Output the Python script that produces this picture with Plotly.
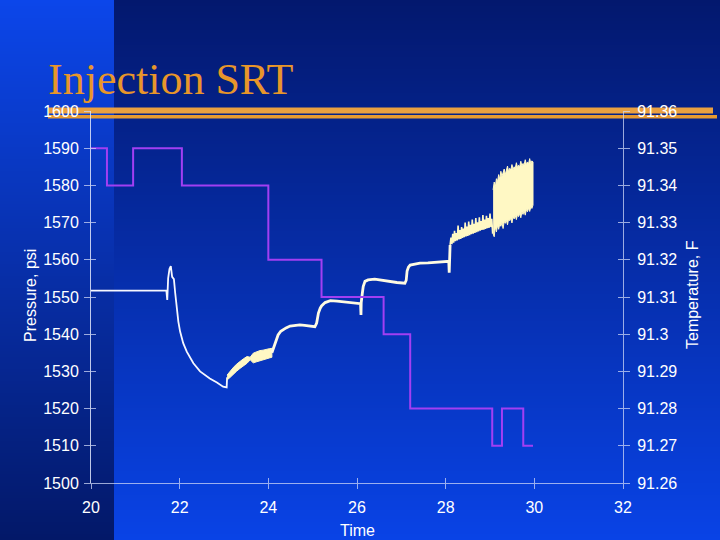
import plotly.graph_objects as go

# ---------------- data ----------------
x_ticks = [20, 22, 24, 26, 28, 30, 32]
p_ticks = [1500, 1510, 1520, 1530, 1540, 1550, 1560, 1570, 1580, 1590, 1600]
t_ticks = [91.26, 91.27, 91.28, 91.29, 91.30, 91.31, 91.32, 91.33, 91.34, 91.35, 91.36]
t_labels = ["91.26", "91.27", "91.28", "91.29", "91.3", "91.31", "91.32", "91.33", "91.34", "91.35", "91.36"]

# temperature (step line, right axis)
temp_time = [20.0, 20.36, 20.95, 22.05, 24.0, 25.2, 26.6, 27.2, 29.05, 29.27, 29.75, 29.97]
temp_val = [91.35, 91.34, 91.35, 91.34, 91.32, 91.31, 91.30, 91.28, 91.27, 91.28, 91.27, 91.27]

# pressure: initial level, spike and decay
decay_time = [20.0, 21.70, 21.72, 21.725, 21.74, 21.77, 21.80, 21.83, 21.87, 21.90, 21.93,
              21.97, 22.01, 22.08, 22.16, 22.31, 22.46, 22.68, 22.84, 22.98, 23.06, 23.07]
decay_p = [1551.7, 1551.7, 1549.2, 1552.5, 1555.0, 1557.5, 1558.3, 1555.4, 1554.8, 1551.0, 1547.4,
           1543.4, 1540.7, 1537.6, 1535.3, 1532.2, 1530.0, 1528.1, 1527.0, 1525.9, 1525.7, 1528.4]

# pressure: first noisy band (envelope)
band1_time = [23.07, 23.13, 23.20, 23.28, 23.36, 23.44, 23.52, 23.59, 23.66, 23.74, 23.81, 23.88, 23.95, 24.02, 24.08]
band1_upper = [1529.0, 1530.0, 1530.9, 1531.9, 1532.7, 1533.4, 1534.0, 1533.8, 1534.9, 1535.3, 1535.6, 1535.7, 1536.0, 1536.1, 1536.2]
band1_lower = [1527.7, 1528.3, 1529.0, 1530.0, 1530.8, 1531.6, 1532.2, 1533.1, 1532.3, 1532.6, 1532.8, 1533.1, 1533.3, 1533.6, 1533.8]

# pressure: step increases
steps_time = [24.08, 24.12, 24.16, 24.22, 24.28, 24.33, 24.40, 24.49, 24.60, 24.71, 24.82, 24.94,
              25.05, 25.09, 25.13, 25.17, 25.20, 25.28, 25.40, 25.55, 25.70, 25.85, 26.00, 26.08,
              26.09, 26.095, 26.12, 26.14, 26.18, 26.25, 26.40, 26.55, 26.74, 26.90, 27.08, 27.11,
              27.13, 27.16, 27.20, 27.30, 27.42, 27.60, 27.87, 28.00, 28.07, 28.08, 28.09, 28.10]
steps_p = [1535.0, 1536.5, 1538.0, 1539.8, 1540.8, 1541.2, 1541.7, 1542.2, 1542.4, 1542.5, 1542.4, 1542.2,
           1542.0, 1543.0, 1545.7, 1547.0, 1547.6, 1548.5, 1549.0, 1548.9, 1548.7, 1548.5, 1548.3, 1548.2,
           1545.2, 1548.5, 1551.0, 1552.8, 1554.2, 1554.6, 1554.8, 1554.5, 1554.1, 1553.9, 1553.7, 1554.5,
           1557.0, 1558.0, 1558.6, 1558.9, 1559.1, 1559.2, 1559.5, 1559.6, 1559.6, 1556.5, 1562.0, 1564.0]

# pressure: spiky rising segment
band2_time = [28.10, 28.12, 28.14, 28.16, 28.18, 28.20, 28.22, 28.24, 28.26, 28.28, 28.30, 28.32,
              28.34, 28.36, 28.38, 28.40, 28.42, 28.44, 28.46, 28.48, 28.50, 28.52, 28.54, 28.56,
              28.58, 28.60, 28.62, 28.64, 28.66, 28.68, 28.70, 28.72, 28.74, 28.76, 28.78, 28.80,
              28.82, 28.84, 28.86, 28.88, 28.90, 28.92, 28.94, 28.96, 28.98, 29.00, 29.02, 29.04, 29.06]
band2_p = [1564.0, 1566.0, 1564.2, 1567.0, 1564.6, 1567.8, 1565.0, 1567.2, 1565.2, 1569.2, 1565.5, 1568.0,
           1565.6, 1568.8, 1565.9, 1568.4, 1566.1, 1570.0, 1566.3, 1568.9, 1566.4, 1570.3, 1566.6, 1569.4,
           1566.9, 1570.8, 1567.0, 1569.7, 1567.2, 1571.2, 1567.4, 1570.1, 1567.6, 1571.4, 1567.8, 1570.4,
           1568.0, 1572.0, 1568.1, 1570.8, 1568.3, 1571.8, 1568.5, 1571.2, 1568.6, 1572.4, 1568.8, 1571.0, 1567.0]

# pressure: large oscillation band (envelope)
band3_time = [29.07, 29.095, 29.12, 29.145, 29.17, 29.195, 29.22, 29.245, 29.27, 29.295, 29.32, 29.345,
              29.37, 29.395, 29.42, 29.445, 29.47, 29.495, 29.52, 29.545, 29.57, 29.595, 29.62, 29.645,
              29.67, 29.695, 29.72, 29.745, 29.77, 29.795, 29.82, 29.845, 29.87, 29.895, 29.92, 29.945, 29.97]
band3_upper = [1578.8, 1580.9, 1579.6, 1581.8, 1581.0, 1582.9, 1581.6, 1583.8, 1582.4, 1583.2, 1584.4, 1582.9,
               1584.0, 1585.2, 1583.6, 1584.6, 1584.1, 1585.6, 1584.3, 1585.0, 1584.6, 1586.1, 1584.8, 1585.4,
               1585.0, 1586.5, 1585.2, 1585.9, 1585.5, 1586.9, 1585.6, 1586.3, 1585.8, 1587.2, 1585.9, 1586.6, 1586.3]
band3_lower = [1567.0, 1566.2, 1568.9, 1567.5, 1569.3, 1568.2, 1569.6, 1569.0, 1570.0, 1568.4, 1570.3, 1569.8,
               1570.6, 1569.4, 1571.0, 1570.5, 1571.2, 1569.9, 1571.6, 1571.0, 1571.9, 1570.8, 1572.2, 1571.6,
               1572.5, 1571.3, 1572.9, 1572.2, 1573.2, 1572.0, 1573.5, 1572.9, 1573.9, 1573.0, 1574.2, 1573.8, 1574.7]

# ---------------- styling ----------------
W, H = 720, 540
FONT = "Liberation Sans, Arial, sans-serif"
WHITE = "#ffffff"
LINE_C = "rgba(205,215,245,0.75)"
TICK_C = "rgba(205,215,245,0.75)"
TEMP_C = "#a23ff2"
CREAM = "#fff8c4"

fig = go.Figure()

fig.add_trace(go.Scatter(x=temp_time, y=temp_val, mode="lines", line=dict(color=TEMP_C, width=2, shape="hv"),
                         xaxis="x", yaxis="y2", hoverinfo="skip", showlegend=False))

fig.add_trace(go.Scatter(x=decay_time, y=decay_p, mode="lines", line=dict(color="#f6f8ff", width=1.8),
                         hoverinfo="skip", showlegend=False))
fig.add_trace(go.Scatter(x=band1_time + band1_time[::-1], y=band1_upper + band1_lower[::-1], mode="lines",
                         fill="toself", fillcolor=CREAM, line=dict(color=CREAM, width=1),
                         hoverinfo="skip", showlegend=False))
fig.add_trace(go.Scatter(x=steps_time, y=steps_p, mode="lines", line=dict(color="#fffbe2", width=2.8),
                         hoverinfo="skip", showlegend=False))
fig.add_trace(go.Scatter(x=band2_time, y=band2_p, mode="lines", line=dict(color=CREAM, width=1.6),
                         hoverinfo="skip", showlegend=False))
fig.add_trace(go.Scatter(x=band3_time + band3_time[::-1], y=band3_upper + band3_lower[::-1], mode="lines",
                         fill="toself", fillcolor=CREAM, line=dict(color=CREAM, width=1),
                         hoverinfo="skip", showlegend=False))

# empty helper traces so the inside-tick overlay axes are drawn
fig.add_trace(go.Scatter(x=[None], y=[None], xaxis="x2", yaxis="y", hoverinfo="skip", showlegend=False))
fig.add_trace(go.Scatter(x=[None], y=[None], xaxis="x", yaxis="y3", hoverinfo="skip", showlegend=False))
fig.add_trace(go.Scatter(x=[None], y=[None], xaxis="x", yaxis="y4", hoverinfo="skip", showlegend=False))

# background gradient strips
shapes = []
def mix(c0, c1, f):
    return "rgb(%d,%d,%d)" % tuple(round(a + (b - a) * f) for a, b in zip(c0, c1))
STEP = 3
SPLIT = 114 / W
for py in range(0, H, STEP):
    f = (py + STEP / 2) / H
    y0 = max(0, 1 - (py + STEP + 1) / H)
    y1 = 1 - py / H
    shapes.append(dict(type="rect", xref="paper", yref="paper", x0=0, x1=SPLIT, y0=y0, y1=y1,
                       fillcolor=mix((12, 70, 234), (3, 24, 104), f), line=dict(width=0), layer="below"))
    shapes.append(dict(type="rect", xref="paper", yref="paper", x0=SPLIT, x1=1, y0=y0, y1=y1,
                       fillcolor=mix((3, 24, 110), (9, 67, 230), f), line=dict(width=0), layer="below"))
# orange title rule
shapes.append(dict(type="rect", xref="paper", yref="paper", x0=48 / W, x1=713 / W,
                   y0=1 - 113.5 / H, y1=1 - 107.5 / H, fillcolor="#eaa040", line=dict(width=0), layer="below"))
shapes.append(dict(type="rect", xref="paper", yref="paper", x0=48 / W, x1=717 / W,
                   y0=1 - 118.5 / H, y1=1 - 115 / H, fillcolor="#e89a30", line=dict(width=0), layer="below"))

XDOM = [91 / W, 623 / W]
YDOM = [(H - 483) / H, (H - 111) / H]
tickfont = dict(family=FONT, size=16, color=WHITE)

fig.update_layout(
    width=W, height=H, autosize=False,
    margin=dict(l=0, r=0, t=0, b=0, pad=0, autoexpand=False),
    paper_bgcolor="#0833a8", plot_bgcolor="rgba(0,0,0,0)",
    shapes=shapes, showlegend=False,
    xaxis=dict(domain=XDOM, range=[20, 32], tickvals=x_ticks, ticks="outside", ticklen=5, tickcolor=TICK_C,
               showline=True, linecolor=LINE_C, linewidth=1, showgrid=False, zeroline=False,
               tickfont=tickfont, anchor="y", ticklabelstandoff=5, automargin=False),
    xaxis2=dict(domain=XDOM, range=[20, 32], tickvals=x_ticks, ticks="inside", ticklen=5, tickcolor=TICK_C,
                showline=False, showgrid=False, zeroline=False, showticklabels=False,
                overlaying="x", anchor="y", automargin=False),
    yaxis=dict(domain=YDOM, range=[1500, 1600], tickvals=p_ticks, ticks="outside", ticklen=6, tickcolor=TICK_C,
               showline=True, linecolor="rgba(225,230,250,0.85)", linewidth=1, showgrid=False, zeroline=False,
               tickfont=tickfont, anchor="x", ticklabelstandoff=2, automargin=False),
    yaxis2=dict(domain=YDOM, range=[91.26, 91.36], tickvals=t_ticks, ticktext=t_labels, ticks="outside",
                ticklen=6, tickcolor=TICK_C, showline=True, linecolor=LINE_C, linewidth=1, showgrid=False,
                zeroline=False, tickfont=tickfont, overlaying="y", side="right", anchor="x",
                ticklabelstandoff=4, automargin=False),
    yaxis3=dict(domain=YDOM, range=[1500, 1600], tickvals=p_ticks, ticks="inside", ticklen=5, tickcolor=TICK_C,
                showline=False, showgrid=False, zeroline=False, showticklabels=False,
                overlaying="y", side="left", anchor="x", automargin=False),
    yaxis4=dict(domain=YDOM, range=[91.26, 91.36], tickvals=t_ticks, ticks="inside", ticklen=5, tickcolor=TICK_C,
                showline=False, showgrid=False, zeroline=False, showticklabels=False,
                overlaying="y", side="right", anchor="x", automargin=False),
    annotations=[
        dict(text="Injection SRT", xref="paper", yref="paper", x=46 / W, y=1 - 79.5 / H, xanchor="left",
             yanchor="middle", showarrow=False, font=dict(family="Liberation Serif, Times New Roman, serif",
                                                          size=44, color="#e8962a")),
        dict(text="Time", xref="paper", yref="paper", x=357 / W, y=1 - 530 / H, xanchor="center",
             yanchor="middle", showarrow=False, font=dict(family=FONT, size=16, color=WHITE)),
        dict(text="Pressure, psi", xref="paper", yref="paper", x=30 / W, y=1 - 296 / H, xanchor="center",
             yanchor="middle", textangle=-90, showarrow=False, font=dict(family=FONT, size=16, color=WHITE)),
        dict(text="Temperature, F", xref="paper", yref="paper", x=692 / W, y=1 - 295 / H, xanchor="center",
             yanchor="middle", textangle=-90, showarrow=False, font=dict(family=FONT, size=16, color=WHITE)),
    ],
)

fig.write_html("out.html")
